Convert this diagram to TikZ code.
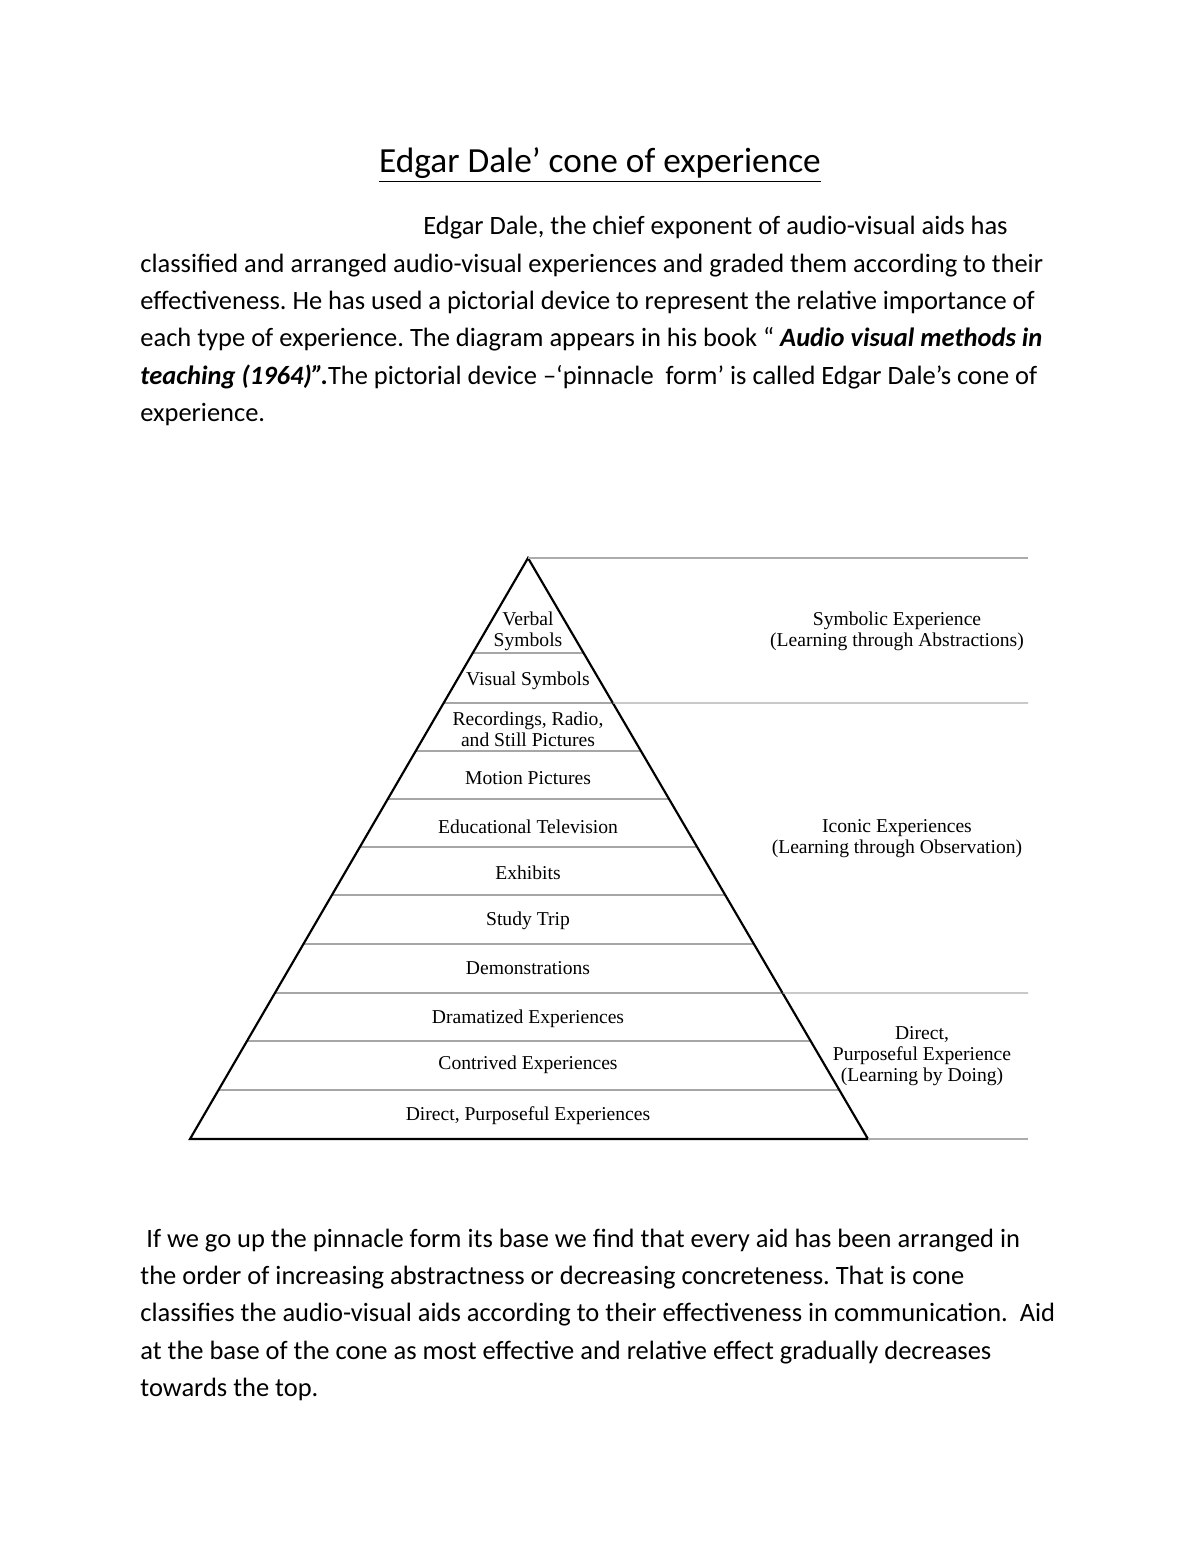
\documentclass[tikz,border=0pt]{standalone}
\usepackage{fontspec}
\setmainfont{Carlito}
\newfontfamily\conefont{Liberation Serif}
\usetikzlibrary{calc}
\frenchspacing

\begin{document}
\begin{tikzpicture}[
  x=0.51pt, y=-0.51pt,
  title/.style  = {anchor=base, inner sep=0pt, font=\fontsize{18}{21}\selectfont},
  body/.style   = {anchor=base west, inner sep=0pt, font=\fontsize{13.5}{16}\selectfont},
  cone/.style   = {draw=black, line width=1.1pt, line join=miter},
  layer/.style  = {draw=gray!70, line width=0.6pt},
  band/.style   = {draw=gray!65, line width=0.6pt},
  lay/.style    = {align=center, inner sep=0pt,
                   font=\conefont\fontsize{10}{10.7}\selectfont},
  group/.style  = {align=center, inner sep=0pt,
                   font=\conefont\fontsize{10}{10.7}\selectfont}
]
\useasboundingbox (0,0) rectangle (1200,1553);

%── Titel und Einleitung ──────────────────────────────────────────────────
\node[title] (heading) at (600,173) {\underline{Edgar Dale’ cone of experience}};

\node[body] (p1a) at (423,235) {Edgar Dale, the chief exponent of audio-visual aids has};
\node[body] (p1b) at (140,272) {classified and arranged audio-visual experiences and graded them according to their};
\node[body] (p1c) at (140,309) {effectiveness. He has used a pictorial device to represent the relative importance of};
\node[body] (p1d) at (140,346) {each type of experience. The diagram appears in his book “ \textbf{\textit{Audio visual methods in}}};
\node[body] (p1e) at (140,384) {\textbf{\textit{teaching (1964)”.}}The pictorial device –‘pinnacle\ \ form’ is called Edgar Dale’s cone of};
\node[body] (p1f) at (140,421) {experience.};

%── Kegel ─────────────────────────────────────────────────────────────────
\coordinate (apex) at (528,558);
\coordinate (bl)   at (190,1139);
\coordinate (br)   at (868,1139);

\foreach \y/\name in {653/vs, 703/rec, 751/mot, 799/edu, 847/exh,
                      895/trip, 944/demo, 993/dram, 1041/contr, 1090/direct} {
  \pgfmathsetmacro\t{(\y-558)/581}
  \coordinate (\name L) at ($(apex)!\t!(bl)$);
  \coordinate (\name R) at ($(apex)!\t!(br)$);
  \draw[layer] (\name L) -- (\name R);
}

\draw[cone] (apex) -- (bl) -- (br) -- cycle;

%── Stufen ────────────────────────────────────────────────────────────────
\node[lay] (verbal)  at (528,631)  {Verbal\\Symbols};
\node[lay] (visual)  at (528,681)  {Visual Symbols};
\node[lay] (record)  at (528,729)  {Recordings, Radio,\\and Still Pictures};
\node[lay] (motion)  at (528,778)  {Motion Pictures};
\node[lay] (edutv)   at (528,827)  {Educational Television};
\node[lay] (exhib)   at (528,873)  {Exhibits};
\node[lay] (study)   at (528,921)  {Study Trip};
\node[lay] (demon)   at (528,968)  {Demonstrations};
\node[lay] (drama)   at (528,1019) {Dramatized Experiences};
\node[lay] (contriv) at (528,1065) {Contrived Experiences};
\node[lay] (purpose) at (528,1116) {Direct, Purposeful Experiences};

%── Gruppen rechts ────────────────────────────────────────────────────────
\coordinate (topE)  at (1028,558);
\coordinate (recE)  at (1028,703);
\coordinate (dramE) at (1028,993);
\coordinate (baseE) at (1028,1139);

\draw[band] (apex)  -- (topE);
\draw[band] (recR)  -- (recE);
\draw[band] (dramR) -- (dramE);
\draw[band] (br)    -- (baseE);

\node[group] (symbolic) at (897,631)  {Symbolic Experience\\(Learning through Abstractions)};
\node[group] (iconic)   at (897,839)  {Iconic Experiences\\(Learning through Observation)};
\node[group] (directg)  at (922,1056) {Direct,\\Purposeful Experience\\(Learning by Doing)};

%── Schluss ───────────────────────────────────────────────────────────────
\node[body] (p2a) at (140,1247) {\ If we go up the pinnacle form its base we find that every aid has been arranged in};
\node[body] (p2b) at (140,1284) {the order of increasing abstractness or decreasing concreteness. That is cone};
\node[body] (p2c) at (140,1321) {classifies the audio-visual aids according to their effectiveness in communication.\ \ Aid};
\node[body] (p2d) at (140,1359) {at the base of the cone as most effective and relative effect gradually decreases};
\node[body] (p2e) at (140,1396) {towards the top.};

\end{tikzpicture}
\end{document}
